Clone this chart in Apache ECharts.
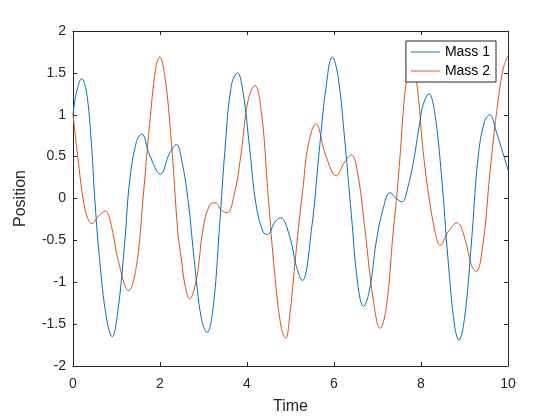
<!DOCTYPE html>
<html>
<head>
<meta charset="utf-8">
<script src="https://cdn.jsdelivr.net/npm/echarts@6/dist/echarts.min.js"></script>
<style>
html,body{margin:0;padding:0;background:#fff;}
#c{width:560px;height:420px;}
</style>
</head>
<body>
<div id="c"></div>
<script>
var seriesNames = ['Mass 1', 'Mass 2'];
var xTicks = [0, 2, 4, 6, 8, 10];
var yTicks = [-2, -1.5, -1, -0.5, 0, 0.5, 1, 1.5, 2];

var time1 = [0, 0.08, 0.20, 0.31, 0.42, 0.50, 0.61, 0.77, 0.90, 1.03, 1.19, 1.30, 1.46, 1.58, 1.76, 2.01, 2.22, 2.38, 2.49, 2.64, 2.80, 2.95, 3.08, 3.22, 3.37, 3.49, 3.64, 3.78, 3.91, 4.06, 4.21, 4.37, 4.47, 4.64, 4.77, 4.98, 5.13, 5.27, 5.48, 5.67, 5.81, 5.96, 6.09, 6.25, 6.40, 6.55, 6.68, 6.82, 6.97, 7.13, 7.29, 7.43, 7.57, 7.70, 7.82, 7.97, 8.05, 8.18, 8.31, 8.47, 8.62, 8.77, 8.87, 9.00, 9.16, 9.31, 9.46, 9.58, 9.73, 10.0];
var mass1 = [1.00, 1.27, 1.43, 1.27, 0.68, 0.00, -0.72, -1.43, -1.65, -1.35, -0.52, 0.20, 0.68, 0.77, 0.52, 0.29, 0.54, 0.645, 0.48, 0.00, -0.80, -1.43, -1.60, -1.31, -0.32, 0.56, 1.35, 1.50, 1.27, 0.60, -0.08, -0.40, -0.43, -0.28, -0.23, -0.45, -0.80, -0.98, -0.38, 0.62, 1.30, 1.69, 1.47, 0.68, -0.20, -1.04, -1.29, -1.08, -0.52, -0.12, 0.07, 0.00, -0.04, 0.14, 0.42, 0.90, 1.12, 1.25, 1.04, 0.28, -0.72, -1.51, -1.69, -1.43, -0.52, 0.48, 0.92, 1.00, 0.80, 0.34];

var time2 = [0, 0.115, 0.23, 0.34, 0.44, 0.57, 0.74, 0.88, 1.03, 1.28, 1.46, 1.61, 1.76, 1.90, 1.99, 2.11, 2.26, 2.41, 2.49, 2.57, 2.68, 2.84, 2.99, 3.14, 3.27, 3.41, 3.54, 3.72, 3.87, 4.02, 4.18, 4.33, 4.48, 4.64, 4.79, 4.89, 4.98, 5.10, 5.21, 5.29, 5.40, 5.58, 5.82, 6.05, 6.25, 6.40, 6.55, 6.70, 6.90, 7.06, 7.20, 7.36, 7.42, 7.51, 7.65, 7.78, 7.91, 8.05, 8.20, 8.36, 8.44, 8.62, 8.83, 9.01, 9.16, 9.27, 9.43, 9.58, 9.74, 9.89, 10.0];
var mass2 = [1.00, 0.48, 0.00, -0.24, -0.30, -0.22, -0.15, -0.32, -0.72, -1.10, -0.80, 0.00, 0.88, 1.55, 1.69, 1.47, 0.68, -0.40, -0.72, -1.02, -1.20, -0.96, -0.36, -0.08, -0.05, -0.14, -0.17, 0.08, 0.56, 1.16, 1.35, 1.04, 0.08, -0.92, -1.55, -1.67, -1.41, -0.78, -0.22, 0.14, 0.62, 0.89, 0.50, 0.27, 0.44, 0.52, 0.28, -0.32, -1.20, -1.55, -1.31, -0.40, -0.10, 0.45, 1.35, 1.65, 1.35, 0.56, -0.04, -0.48, -0.56, -0.40, -0.29, -0.48, -0.80, -0.87, -0.52, 0.28, 1.04, 1.55, 1.70];

function pairs(t, v) {
  var out = [];
  for (var i = 0; i < t.length; i++) out.push([t[i], v[i]]);
  return out;
}

var axisColor = '#262626';
var font = 'Liberation Sans, Arial, Helvetica, sans-serif';
var lineIcon = 'path://M0 0H30V1H0Z';

var chart = echarts.init(document.getElementById('c'), null, {renderer: 'canvas'});
chart.setOption({
  animation: false,
  backgroundColor: '#fff',
  grid: {left: 73, right: 52, top: 31, bottom: 54, containLabel: false},
  legend: {
    data: [{name: seriesNames[0], icon: lineIcon}, {name: seriesNames[1], icon: lineIcon}],
    orient: 'vertical',
    right: 64,
    top: 41,
    padding: [3, 6, 3, 5],
    itemGap: 3,
    itemWidth: 29,
    itemHeight: 1,
    backgroundColor: '#fff',
    borderColor: axisColor,
    borderWidth: 1,
    borderRadius: 0,
    textStyle: {fontFamily: font, fontSize: 14, color: '#000', lineHeight: 16}
  },
  xAxis: [{
    type: 'value',
    min: xTicks[0], max: xTicks[xTicks.length - 1], interval: 2,
    name: 'Time', nameLocation: 'middle', nameGap: 33,
    nameTextStyle: {fontFamily: font, fontSize: 16, color: axisColor},
    axisLine: {show: true, onZero: false, lineStyle: {color: axisColor, width: 1}},
    axisTick: {show: true, inside: true, length: 4, lineStyle: {color: axisColor}},
    axisLabel: {fontFamily: font, fontSize: 14, color: axisColor, margin: 11},
    splitLine: {show: false}
  }, {
    type: 'value', position: 'top',
    min: xTicks[0], max: xTicks[xTicks.length - 1], interval: 2,
    axisLine: {show: true, onZero: false, lineStyle: {color: axisColor, width: 1}},
    axisTick: {show: true, inside: true, length: 4, lineStyle: {color: axisColor}},
    axisLabel: {show: false},
    splitLine: {show: false}
  }],
  yAxis: [{
    type: 'value',
    min: yTicks[0], max: yTicks[yTicks.length - 1], interval: 0.5,
    name: 'Position', nameLocation: 'middle', nameGap: 44, nameRotate: 90,
    nameTextStyle: {fontFamily: font, fontSize: 16, color: axisColor},
    axisLine: {show: true, onZero: false, lineStyle: {color: axisColor, width: 1}},
    axisTick: {show: true, inside: true, length: 4, lineStyle: {color: axisColor}},
    axisLabel: {fontFamily: font, fontSize: 14, color: axisColor, margin: 7},
    splitLine: {show: false}
  }, {
    type: 'value', position: 'right',
    min: yTicks[0], max: yTicks[yTicks.length - 1], interval: 0.5,
    axisLine: {show: true, onZero: false, lineStyle: {color: axisColor, width: 1}},
    axisTick: {show: true, inside: true, length: 4, lineStyle: {color: axisColor}},
    axisLabel: {show: false},
    splitLine: {show: false}
  }],
  series: [{
    name: seriesNames[0], type: 'line', data: pairs(time1, mass1),
    symbol: 'none', smooth: 0.4,
    lineStyle: {color: '#0072BD', width: 1}, itemStyle: {color: '#0072BD'}, z: 2
  }, {
    name: seriesNames[1], type: 'line', data: pairs(time2, mass2),
    symbol: 'none', smooth: 0.4,
    lineStyle: {color: '#D95319', width: 1}, itemStyle: {color: '#D95319'}, z: 1
  }]
});
</script>
</body>
</html>
